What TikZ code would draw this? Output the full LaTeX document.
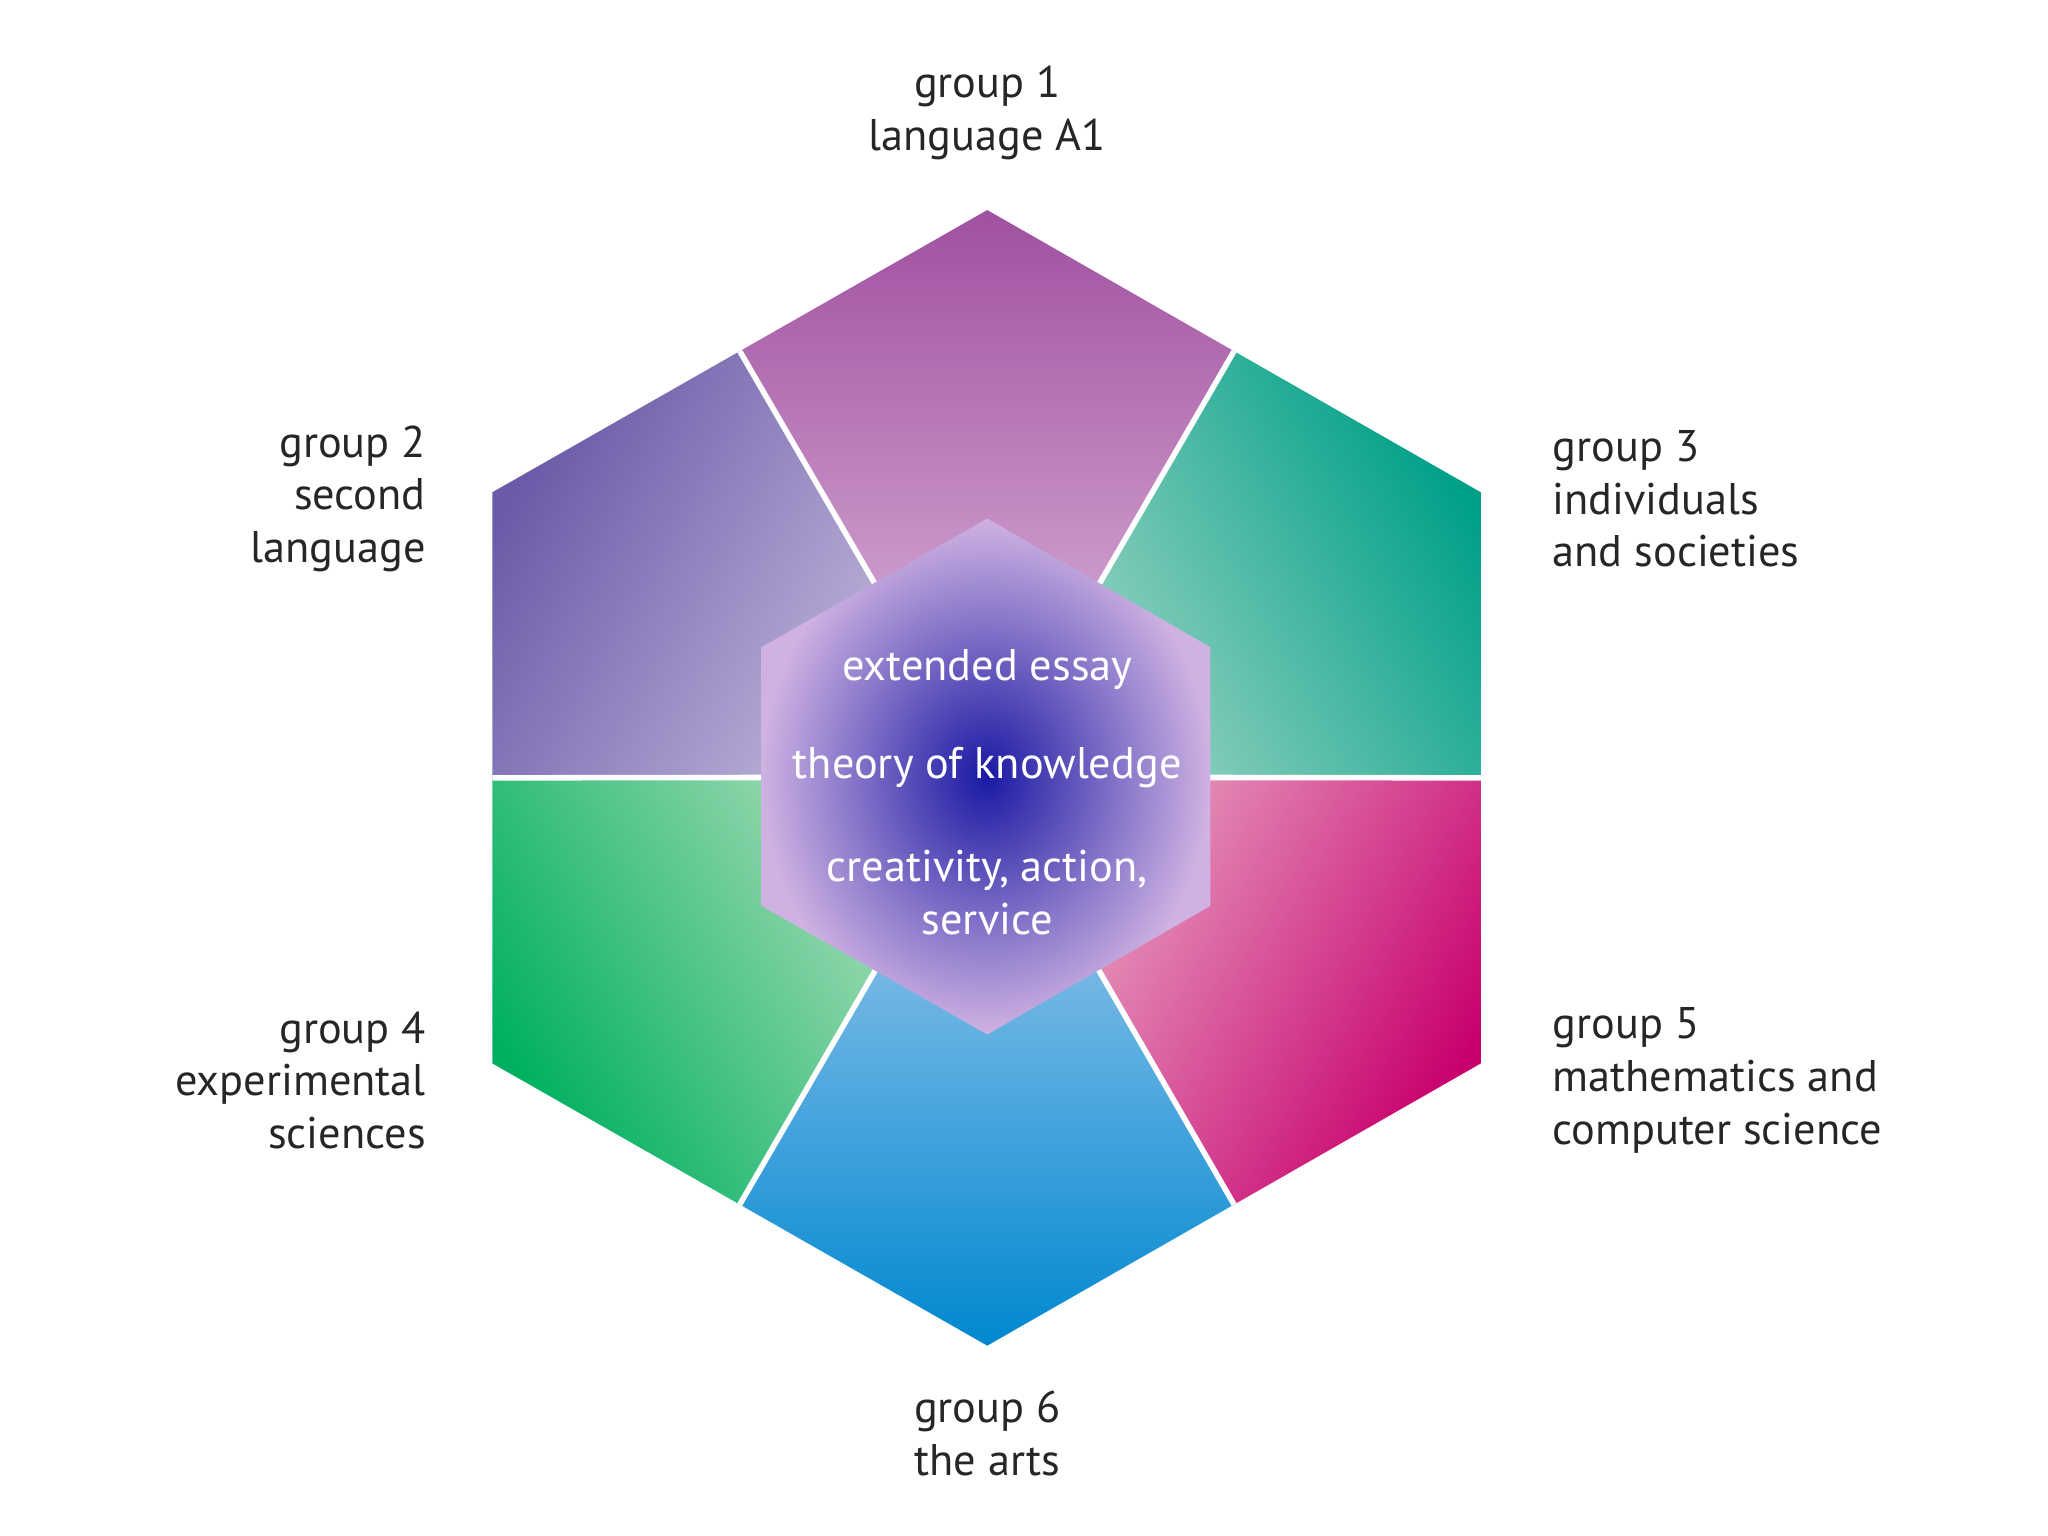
\documentclass[tikz,border=0pt]{standalone}
\usepackage{fontspec}
\setmainfont{PT Sans}
\usetikzlibrary{calc}
\begin{document}
\begin{tikzpicture}[x=0.01cm,y=-0.01cm,
  lab/.style={font=\fontsize{9.6}{11.4}\selectfont,text=black!85,inner sep=0pt},
  inlab/.style={font=\fontsize{9.6}{11.4}\selectfont,text=white,inner sep=0pt,align=center},
  sep/.style={draw=white,line width=1.2pt}]
\useasboundingbox (0,0) rectangle (1560,1170);
\coordinate (C) at (752,592);
\coordinate (V1) at (752,160); \coordinate (V3) at (1128,375);
\coordinate (V5) at (1128,810); \coordinate (V6) at (752,1025);
\coordinate (V4) at (375,810); \coordinate (V2) at (375,375);
\coordinate (M12) at ($(V1)!0.5!(V2)$);
\coordinate (M13) at ($(V1)!0.5!(V3)$);
\coordinate (M35) at ($(V3)!0.5!(V5)$);
\coordinate (M56) at ($(V5)!0.5!(V6)$);
\coordinate (M46) at ($(V4)!0.5!(V6)$);
\coordinate (M24) at ($(V2)!0.5!(V4)$);
\definecolor{g1d}{HTML}{A050A0}\definecolor{g1l}{HTML}{E2BEE0}
\definecolor{g2d}{HTML}{6A5AA8}\definecolor{g2l}{HTML}{C8C0E0}
\definecolor{g3d}{HTML}{00A088}\definecolor{g3l}{HTML}{A8D8C8}
\definecolor{g5d}{HTML}{C8006E}\definecolor{g5l}{HTML}{EAB0C8}
\definecolor{g6d}{HTML}{0088D0}\definecolor{g6l}{HTML}{B0D0F0}
\definecolor{g4d}{HTML}{00B060}\definecolor{g4l}{HTML}{B8E0C0}
\shade[top color=g1d,bottom color=g1l,shading angle=0] (M12)--(V1)--(M13)--(C)--cycle;
\shade[top color=g2d,bottom color=g2l,shading angle=60] (M24)--(V2)--(M12)--(C)--cycle;
\shade[top color=g4d,bottom color=g4l,shading angle=120] (M46)--(V4)--(M24)--(C)--cycle;
\shade[top color=g6d,bottom color=g6l,shading angle=180] (M56)--(V6)--(M46)--(C)--cycle;
\shade[top color=g5d,bottom color=g5l,shading angle=240] (M35)--(V5)--(M56)--(C)--cycle;
\shade[top color=g3d,bottom color=g3l,shading angle=-60] (M13)--(V3)--(M35)--(C)--cycle;
\draw[sep] (M12)--(C) (M13)--(C) (M35)--(C) (M56)--(C) (M46)--(C) (M24)--(C);
\shade[inner color=blue!60!black!90,outer color=blue!25!violet!30!white,draw=none]
  (752,395)--(922,493)--(922,690)--(752,788)--(580,690)--(580,493)--cycle;
\node[inlab] (e1) at (752,510) {extended essay};
\node[inlab] (e2) at (752,585) {theory of knowledge};
\node[inlab] (e3) at (752,680) {creativity, action,\\service};
\node[lab,align=center] (l1) at (752,86) {group 1\\language A1};
\node[lab,align=right,anchor=east] (l2) at (325,380) {group 2\\second\\language};
\node[lab,align=left,anchor=west] (l3) at (1182,380) {group 3\\individuals\\and societies};
\node[lab,align=right,anchor=east] (l4) at (325,823) {group 4\\experimental\\sciences};
\node[lab,align=left,anchor=west] (l5) at (1182,823) {group 5\\mathematics and\\computer science};
\node[lab,align=center] (l6) at (752,1092) {group 6\\the arts};
\end{tikzpicture}
\end{document}
